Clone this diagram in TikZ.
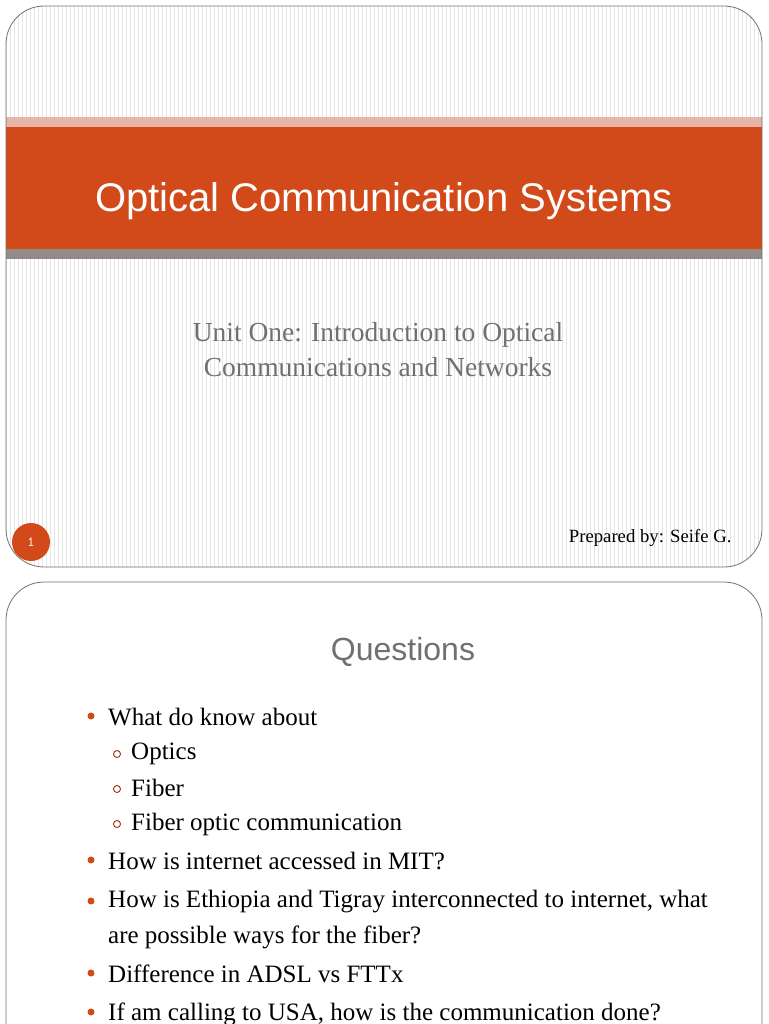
\documentclass[tikz,border=0pt]{standalone}
\usepackage{fontspec}
\setmainfont{Liberation Serif}
\setsansfont{Liberation Sans}
\definecolor{orng}{HTML}{D24A1A}
\definecolor{pnk}{HTML}{E5B5A8}
\definecolor{gbar}{HTML}{948B89}
\definecolor{gtxt}{HTML}{707070}
\begin{document}
\begin{tikzpicture}[x=1pt,y=-1pt,
  btxt/.style={anchor=west,font=\fontsize{25}{29}\selectfont,text=black,inner sep=0},
  dot/.style={circle,fill=orng,inner sep=0,minimum size=7},
  odot/.style={circle,draw=orng!70!black,line width=0.9,inner sep=0,minimum size=7}]
\useasboundingbox (0,0) rectangle (768,1024);
\fill[white] (0,0) rectangle (768,1024);
% slide 1
\begin{scope}
\clip[rounded corners=38] (6,6) rectangle (762,567);
\fill[white] (0,0) rectangle (768,570);
\foreach \i in {0,...,190} \draw[black!10,line width=0.8] ({6+4*\i},0) -- ({6+4*\i},570);
\fill[pnk] (0,117) rectangle (768,127);
\fill[orng] (0,127) rectangle (768,249);
\fill[gbar] (0,249) rectangle (768,259);
\end{scope}
\draw[black!55,line width=0.8,rounded corners=38] (6,6) rectangle (762,567);
\node (title) at (384,201) {\sffamily\fontsize{40}{44}\selectfont\color{white}Optical Communication Systems};
\node[align=center,text=gtxt,font=\fontsize{27.5}{35}\selectfont] (sub) at (378,350) {Unit One: Introduction to Optical\\Communications and Networks};
\node[anchor=east,font=\fontsize{18.7}{22}\selectfont] (prep) at (735,538) {Prepared by: Seife G.};
\node[circle,fill=orng,minimum size=38,inner sep=0,text=white,font=\ttfamily\fontsize{14}{14}\selectfont] (num) at (31,542) {1};
% slide 2
\draw[black!55,line width=0.8,rounded corners=38] (6,582) rectangle (762,1060);
\node[text=gtxt,font=\sffamily\fontsize{32}{36}\selectfont] (q) at (403,652) {Questions};
\node[dot] (d1) at (91,716) {}; \node[btxt] (t1) at (108,717) {What do know about};
\node[odot] (o1) at (117,754) {}; \node[btxt] (s1) at (131,754) {Optics};
\node[odot] (o2) at (117,789) {}; \node[btxt] (s2) at (131,788) {Fiber};
\node[odot] (o3) at (117,824) {}; \node[btxt] (s3) at (131,824) {Fiber optic communication};
\node[dot] (d2) at (91,860) {}; \node[btxt] (t2) at (108,861) {How is internet accessed in MIT?};
\node[dot] (d3) at (91,901) {}; \node[btxt] (t3) at (108,902) {How is Ethiopia and Tigray interconnected to internet, what};
\node[btxt] (t3b) at (108,937) {are possible ways for the fiber?};
\node[dot] (d4) at (91,973) {}; \node[btxt] (t4) at (108,974) {Difference in ADSL vs FTTx};
\node[dot] (d5) at (91,1012) {}; \node[btxt] (t5) at (108,1014) {If am calling to USA, how is the communication done?};
\end{tikzpicture}
\end{document}
